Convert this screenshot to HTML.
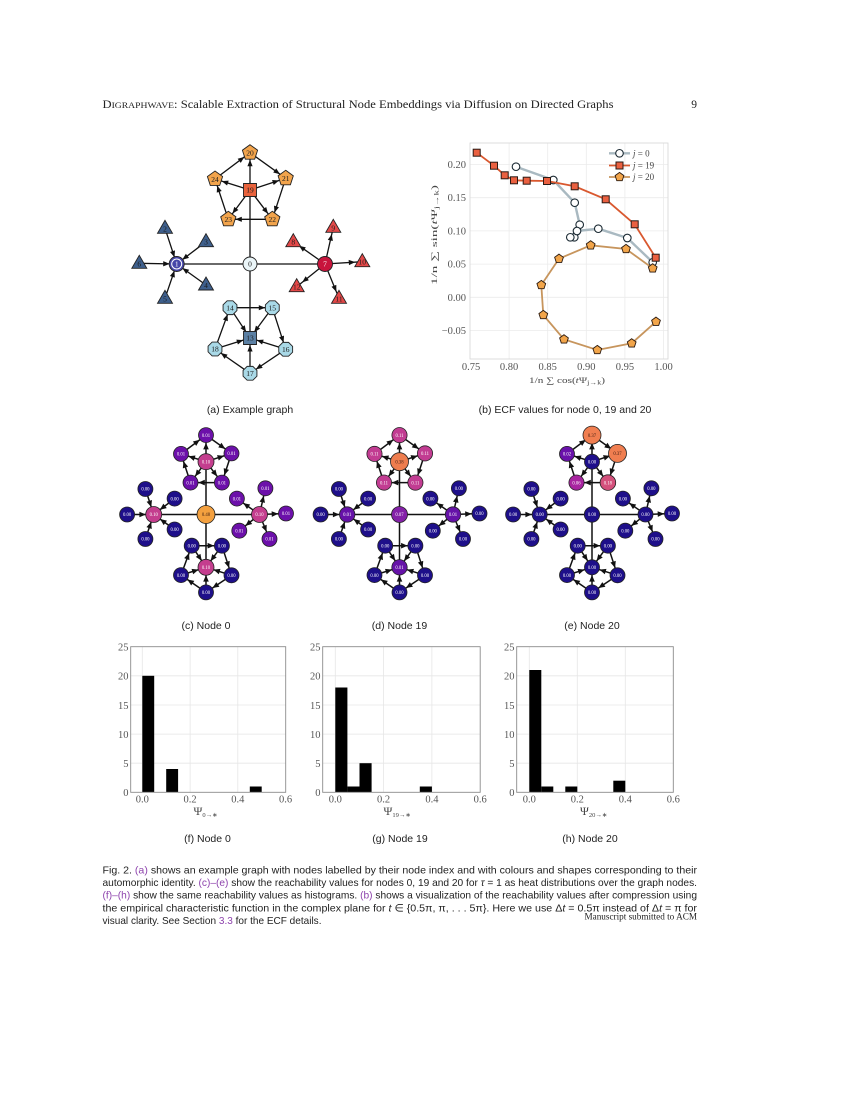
<!DOCTYPE html>
<html><head><meta charset="utf-8">
<style>
html,body{margin:0;padding:0;background:#fff}
svg{display:block}
.sf{font-family:"Liberation Serif",serif}
.ss{font-family:"Liberation Sans",sans-serif}
.tk{font-family:"Liberation Serif",serif;font-size:10.5px;fill:#555}
.nl{font-family:"Liberation Serif",serif;font-size:4.7px;fill:#fff;text-anchor:middle}
.nd{font-family:"Liberation Serif",serif;font-size:4.7px;fill:#3a1a10;text-anchor:middle}
.al{font-family:"Liberation Serif",serif;font-size:7.5px;fill:#1a1a1a;text-anchor:middle}
</style></head><body>
<svg width="850" height="1100" viewBox="0 0 850 1100" xmlns="http://www.w3.org/2000/svg">
<defs>
<marker id="m1" markerUnits="userSpaceOnUse" viewBox="-12 -6 24 12" markerWidth="24" markerHeight="12" refX="7" refY="0" orient="auto" overflow="visible"><path d="M0,0 L-6.5,-2.6 L-6.5,2.6 Z" fill="#111"/></marker>
<marker id="m2" markerUnits="userSpaceOnUse" viewBox="-12 -6 24 12" markerWidth="24" markerHeight="12" refX="7.8" refY="0" orient="auto" overflow="visible"><path d="M0,0 L-6.5,-2.8 L-6.5,2.8 Z" fill="#111"/></marker>
<path id="tri" d="M0,-8 L7.5,5 L-7.5,5 Z"/>
<path id="sq" d="M-6.5,-6.5 h13 v13 h-13 Z"/>
<path id="oct" d="M6.93,2.87 L2.87,6.93 L-2.87,6.93 L-6.93,2.87 L-6.93,-2.87 L-2.87,-6.93 L2.87,-6.93 L6.93,-2.87 Z"/>
<path id="pent" d="M0,-8 L7.61,-2.47 L4.7,6.47 L-4.7,6.47 L-7.61,-2.47 Z"/>
<path id="p5s" d="M0,-4.6 L4.37,-1.42 L2.7,3.72 L-2.7,3.72 L-4.37,-1.42 Z"/>
<g id="E" stroke="#111" stroke-width="1.5" fill="none">
<path d="M0,0H-52.3M0,0H53.5M0,0V52.8M0,0V-52.8"/>
<g marker-end="url(#m2)">
<line x1="-60.6" y1="-25.5" x2="-52.3" y2="0"/>
<line x1="-31.4" y1="-15.9" x2="-52.3" y2="0"/>
<line x1="-31.4" y1="15" x2="-52.3" y2="0"/>
<line x1="-60.6" y1="24.5" x2="-52.3" y2="0"/>
<line x1="-78.9" y1="0" x2="-52.3" y2="0"/>
<line x1="53.5" y1="0" x2="30.9" y2="-15.9"/>
<line x1="53.5" y1="0" x2="59.4" y2="-26.2"/>
<line x1="53.5" y1="0" x2="80" y2="-1"/>
<line x1="53.5" y1="0" x2="63.5" y2="24.5"/>
<line x1="53.5" y1="0" x2="33.3" y2="16.2"/>
<line x1="0" y1="-52.8" x2="0" y2="-79.4"/>
<line x1="0" y1="-52.8" x2="25.5" y2="-61.1"/>
<line x1="0" y1="-52.8" x2="15.9" y2="-31.9"/>
<line x1="0" y1="-52.8" x2="-15.5" y2="-31.9"/>
<line x1="0" y1="-52.8" x2="-25" y2="-60.6"/>
<line x1="-25" y1="-60.6" x2="0" y2="-79.4"/>
<line x1="0" y1="-79.4" x2="25.5" y2="-61.1"/>
<line x1="25.5" y1="-61.1" x2="15.9" y2="-31.9"/>
<line x1="15.9" y1="-31.9" x2="-15.5" y2="-31.9"/>
<line x1="-15.5" y1="-31.9" x2="-25" y2="-60.6"/>
<line x1="-14.3" y1="31.2" x2="0" y2="52.8"/>
<line x1="15.9" y1="31.2" x2="0" y2="52.8"/>
<line x1="25.5" y1="60.8" x2="0" y2="52.8"/>
<line x1="0" y1="77.9" x2="0" y2="52.8"/>
<line x1="-25" y1="60.6" x2="0" y2="52.8"/>
<line x1="-14.3" y1="31.2" x2="15.9" y2="31.2"/>
<line x1="15.9" y1="31.2" x2="25.5" y2="60.8"/>
<line x1="25.5" y1="60.8" x2="0" y2="77.9"/>
<line x1="0" y1="77.9" x2="-25" y2="60.6"/>
<line x1="-25" y1="60.6" x2="-14.3" y2="31.2"/>
</g></g>
</defs>

<!-- Header -->
<text class="sf" x="102.5" y="108" font-size="11.5" fill="#222" textLength="511" lengthAdjust="spacingAndGlyphs">D<tspan font-size="8.8">IGRAPHWAVE</tspan>: Scalable Extraction of Structural Node Embeddings via Diffusion on Directed Graphs</text>
<text class="sf" x="697" y="108" font-size="11.5" fill="#222" text-anchor="end">9</text>

<!-- (a) Example graph -->
<g stroke="#111" stroke-width="1.3" fill="none">
<path d="M250,264H176.7M250,264H325M250,264V338M250,264V190"/>
<g marker-end="url(#m1)">
<line x1="165" y1="228.3" x2="176.7" y2="264"/>
<line x1="206" y1="241.7" x2="176.7" y2="264"/>
<line x1="206" y1="285" x2="176.7" y2="264"/>
<line x1="165" y1="298.3" x2="176.7" y2="264"/>
<line x1="139.3" y1="263.3" x2="176.7" y2="264"/>
<line x1="325" y1="264" x2="293.3" y2="241.7"/>
<line x1="325" y1="264" x2="333.3" y2="227.3"/>
<line x1="325" y1="264" x2="362.3" y2="261.7"/>
<line x1="325" y1="264" x2="339" y2="298.3"/>
<line x1="325" y1="264" x2="296.7" y2="286.7"/>
<line x1="250" y1="190" x2="250" y2="152.7"/>
<line x1="250" y1="190" x2="285.7" y2="178.3"/>
<line x1="250" y1="190" x2="272.3" y2="219.3"/>
<line x1="250" y1="190" x2="228.3" y2="219.3"/>
<line x1="250" y1="190" x2="215" y2="179"/>
<line x1="215" y1="179" x2="250" y2="152.7"/>
<line x1="250" y1="152.7" x2="285.7" y2="178.3"/>
<line x1="285.7" y1="178.3" x2="272.3" y2="219.3"/>
<line x1="272.3" y1="219.3" x2="228.3" y2="219.3"/>
<line x1="228.3" y1="219.3" x2="215" y2="179"/>
<line x1="230" y1="307.7" x2="250" y2="338"/>
<line x1="272.3" y1="307.7" x2="250" y2="338"/>
<line x1="285.7" y1="349.3" x2="250" y2="338"/>
<line x1="250" y1="373.3" x2="250" y2="338"/>
<line x1="215" y1="349" x2="250" y2="338"/>
<line x1="230" y1="307.7" x2="272.3" y2="307.7"/>
<line x1="272.3" y1="307.7" x2="285.7" y2="349.3"/>
<line x1="285.7" y1="349.3" x2="250" y2="373.3"/>
<line x1="250" y1="373.3" x2="215" y2="349"/>
<line x1="215" y1="349" x2="230" y2="307.7"/>
</g></g>
<g stroke="#222" stroke-width="0.9">
<circle cx="250" cy="264" r="7" fill="#eaf5f8"/>
<circle cx="176.7" cy="264" r="7.5" fill="#4646a8"/>
<circle cx="176.7" cy="264" r="5" fill="none" stroke="#fff" stroke-width="1"/>
<circle cx="325" cy="264" r="7.5" fill="#c8143c"/>
<g fill="#3e5f8c">
<use href="#tri" x="165" y="228.3"/><use href="#tri" x="206" y="241.7"/><use href="#tri" x="206" y="285"/><use href="#tri" x="165" y="298.3"/><use href="#tri" x="139.3" y="263.3"/>
</g>
<g fill="#e34848">
<use href="#tri" x="293.3" y="241.7"/><use href="#tri" x="333.3" y="227.3"/><use href="#tri" x="362.3" y="261.7"/><use href="#tri" x="339" y="298.3"/><use href="#tri" x="296.7" y="286.7"/>
</g>
<use href="#sq" x="250" y="338" fill="#5b80a4"/>
<use href="#sq" x="250" y="190" fill="#e8623c"/>
<g fill="#a9d9e7">
<use href="#oct" x="230" y="307.7"/><use href="#oct" x="272.3" y="307.7"/><use href="#oct" x="285.7" y="349.3"/><use href="#oct" x="250" y="373.3"/><use href="#oct" x="215" y="349"/>
</g>
<g fill="#f2a44c">
<use href="#pent" x="250" y="152.7"/><use href="#pent" x="285.7" y="178.3"/><use href="#pent" x="272.3" y="219.3"/><use href="#pent" x="228.3" y="219.3"/><use href="#pent" x="215" y="179"/>
</g>
</g>
<g class="al">
<text x="250" y="266.6">0</text>
<text x="176.7" y="266.6" fill="#fff">1</text>
<text x="165" y="231.3">2</text><text x="206" y="244.7">3</text><text x="206" y="288">4</text><text x="165" y="301.3">5</text><text x="139.3" y="266.3">6</text>
<text x="325" y="266.6" fill="#fff">7</text>
<text x="293.3" y="244.7">8</text><text x="333.3" y="230.3">9</text><text x="362.3" y="264.7">10</text><text x="339" y="301.3">11</text><text x="296.7" y="289.7">12</text>
<text x="250" y="340.6">13</text>
<text x="230" y="310.3">14</text><text x="272.3" y="310.3">15</text><text x="285.7" y="351.9">16</text><text x="250" y="375.9">17</text><text x="215" y="351.6">18</text>
<text x="250" y="192.6">19</text>
<text x="250" y="155.6">20</text><text x="285.7" y="181.2">21</text><text x="272.3" y="222.2">22</text><text x="228.3" y="222.2">23</text><text x="215" y="181.9">24</text>
</g>
<text class="ss" x="250" y="413" font-size="10.5" fill="#222" text-anchor="middle">(a) Example graph</text>

<!-- (b) ECF -->
<g stroke="#ebebeb" stroke-width="0.8">
<line x1="509.1" y1="143" x2="509.1" y2="359"/><line x1="547.7" y1="143" x2="547.7" y2="359"/><line x1="586.3" y1="143" x2="586.3" y2="359"/><line x1="624.9" y1="143" x2="624.9" y2="359"/><line x1="663.5" y1="143" x2="663.5" y2="359"/>
<line x1="470" y1="164.5" x2="668" y2="164.5"/><line x1="470" y1="197.7" x2="668" y2="197.7"/><line x1="470" y1="230.9" x2="668" y2="230.9"/><line x1="470" y1="264.1" x2="668" y2="264.1"/><line x1="470" y1="297.3" x2="668" y2="297.3"/><line x1="470" y1="330.5" x2="668" y2="330.5"/>
</g>
<rect x="470" y="143" width="198" height="216" fill="none" stroke="#d6d6d6" stroke-width="0.8"/>
<g class="tk" text-anchor="end" font-size="10">
<text x="466" y="168">0.20</text><text x="466" y="201.2">0.15</text><text x="466" y="234.4">0.10</text><text x="466" y="267.6">0.05</text><text x="466" y="300.8">0.00</text><text x="466" y="334">−0.05</text>
</g>
<g class="tk" text-anchor="middle" font-size="10">
<text x="471" y="370">0.75</text><text x="509.1" y="370">0.80</text><text x="547.7" y="370">0.85</text><text x="586.3" y="370">0.90</text><text x="624.9" y="370">0.95</text><text x="663.5" y="370">1.00</text>
</g>
<text class="sf" x="567" y="383" font-size="8.5" fill="#444" text-anchor="middle" textLength="76" lengthAdjust="spacingAndGlyphs">1/n ∑ cos(<tspan font-style="italic">t</tspan>Ψ<tspan font-size="6" dy="1.5">j→k</tspan><tspan dy="-1.5">)</tspan></text>
<text class="sf" transform="translate(437,235) rotate(-90)" font-size="8.5" fill="#444" text-anchor="middle" textLength="100" lengthAdjust="spacingAndGlyphs">1/n ∑ sin(<tspan font-style="italic">t</tspan>Ψ<tspan font-size="6" dy="1.5">j→k</tspan><tspan dy="-1.5">)</tspan></text>
<!-- series j=0 -->
<polyline fill="none" stroke="#a9b9c1" stroke-width="2.4" stroke-linejoin="round" points="516,166.7 553.3,180 574.7,202.7 579.7,224.7 574.3,237.3 570.3,237.3 577,231 598.3,228.7 627.3,238 652.7,262.3"/>
<g fill="#fff" stroke="#1b2a33" stroke-width="1.1">
<circle cx="516" cy="166.7" r="3.8"/><circle cx="553.3" cy="180" r="3.8"/><circle cx="574.7" cy="202.7" r="3.8"/><circle cx="579.7" cy="224.7" r="3.8"/><circle cx="574.3" cy="237.3" r="3.8"/><circle cx="570.3" cy="237.3" r="3.8"/><circle cx="577" cy="231" r="3.8"/><circle cx="598.3" cy="228.7" r="3.8"/><circle cx="627.3" cy="238" r="3.8"/><circle cx="652.7" cy="262.3" r="3.8"/>
</g>
<!-- series j=19 -->
<polyline fill="none" stroke="#d9582f" stroke-width="1.8" points="476.7,152.7 494,165.7 504.7,175.3 514,180.3 526.7,180.7 547,181 574.7,186.3 605.7,199.3 634.7,224.3 655.7,257.7"/>
<g fill="#ea6040" stroke="#2a1a14" stroke-width="1">
<rect x="473.2" y="149.2" width="7" height="7"/><rect x="490.5" y="162.2" width="7" height="7"/><rect x="501.2" y="171.8" width="7" height="7"/><rect x="510.5" y="176.8" width="7" height="7"/><rect x="523.2" y="177.2" width="7" height="7"/><rect x="543.5" y="177.5" width="7" height="7"/><rect x="571.2" y="182.8" width="7" height="7"/><rect x="602.2" y="195.8" width="7" height="7"/><rect x="631.2" y="220.8" width="7" height="7"/><rect x="652.2" y="254.2" width="7" height="7"/>
</g>
<!-- series j=20 -->
<polyline fill="none" stroke="#c7955d" stroke-width="1.8" points="656,321.7 631.7,343.3 597.3,350 564,339.3 543.3,315 541.3,285 559,258.7 590.7,245.3 626,249 652.7,268.3"/>
<g fill="#f2a54a" stroke="#2a1a10" stroke-width="0.9">
<use href="#p5s" x="656" y="321.7"/><use href="#p5s" x="631.7" y="343.3"/><use href="#p5s" x="597.3" y="350"/><use href="#p5s" x="564" y="339.3"/><use href="#p5s" x="543.3" y="315"/><use href="#p5s" x="541.3" y="285"/><use href="#p5s" x="559" y="258.7"/><use href="#p5s" x="590.7" y="245.3"/><use href="#p5s" x="626" y="249"/><use href="#p5s" x="652.7" y="268.3"/>
</g>
<!-- legend -->
<line x1="609" y1="153.3" x2="630" y2="153.3" stroke="#a9b9c1" stroke-width="2.4"/>
<circle cx="619.5" cy="153.3" r="3.8" fill="#fff" stroke="#1b2a33" stroke-width="1.1"/>
<line x1="609" y1="165.5" x2="630" y2="165.5" stroke="#d9582f" stroke-width="1.8"/>
<rect x="616" y="162" width="7" height="7" fill="#ea6040" stroke="#2a1a14" stroke-width="1"/>
<line x1="609" y1="177" x2="630" y2="177" stroke="#c7955d" stroke-width="1.8"/>
<use href="#p5s" x="619.5" y="177" fill="#f2a54a" stroke="#2a1a10" stroke-width="0.9"/>
<g class="sf" font-size="9" fill="#444">
<text x="633" y="156.3"><tspan font-style="italic">j</tspan> = 0</text>
<text x="633" y="168.5"><tspan font-style="italic">j</tspan> = 19</text>
<text x="633" y="180"><tspan font-style="italic">j</tspan> = 20</text>
</g>
<text class="ss" x="565" y="413" font-size="10.5" fill="#222" text-anchor="middle">(b) ECF values for node 0, 19 and 20</text>

<!-- (c) Node 0 -->
<g transform="translate(206,514.5)">
<use href="#E"/>
<g stroke="#222" stroke-width="0.8">
<circle cx="0" cy="0" r="9" fill="#f3a03f"/>
<circle cx="-52.3" cy="0" r="8" fill="#c43e8e"/>
<circle cx="53.5" cy="0" r="8" fill="#c43e8e"/>
<circle cx="0" cy="52.8" r="8" fill="#c43e8e"/>
<circle cx="0" cy="-52.8" r="8" fill="#c43e8e"/>
<g fill="#1e0f8a">
<circle cx="-60.6" cy="-25.5" r="7.5"/><circle cx="-31.4" cy="-15.9" r="7.5"/><circle cx="-31.4" cy="15" r="7.5"/><circle cx="-60.6" cy="24.5" r="7.5"/><circle cx="-78.9" cy="0" r="7.5"/>
<circle cx="-14.3" cy="31.2" r="7.5"/><circle cx="15.9" cy="31.2" r="7.5"/><circle cx="25.5" cy="60.8" r="7.5"/><circle cx="0" cy="77.9" r="7.5"/><circle cx="-25" cy="60.6" r="7.5"/>
</g>
<g fill="#6c10aa">
<circle cx="30.9" cy="-15.9" r="7.5"/><circle cx="59.4" cy="-26.2" r="7.5"/><circle cx="80" cy="-1" r="7.5"/><circle cx="63.5" cy="24.5" r="7.5"/><circle cx="33.3" cy="16.2" r="7.5"/>
<circle cx="0" cy="-79.4" r="7.5"/><circle cx="25.5" cy="-61.1" r="7.5"/><circle cx="15.9" cy="-31.9" r="7.5"/><circle cx="-15.5" cy="-31.9" r="7.5"/><circle cx="-25" cy="-60.6" r="7.5"/>
</g></g>
<text class="nd" x="0" y="1.7">0.48</text>
<g class="nl">
<text x="-52.3" y="1.7">0.10</text><text x="53.5" y="1.7">0.10</text><text x="0" y="54.5">0.10</text><text x="0" y="-51.1">0.10</text>
<text x="-60.6" y="-23.8">0.00</text><text x="-31.4" y="-14.2">0.00</text><text x="-31.4" y="16.7">0.00</text><text x="-60.6" y="26.2">0.00</text><text x="-78.9" y="1.7">0.00</text>
<text x="-14.3" y="32.9">0.00</text><text x="15.9" y="32.9">0.00</text><text x="25.5" y="62.5">0.00</text><text x="0" y="79.6">0.00</text><text x="-25" y="62.3">0.00</text>
<text x="30.9" y="-14.2">0.01</text><text x="59.4" y="-24.5">0.01</text><text x="80" y="0.7">0.01</text><text x="63.5" y="26.2">0.01</text><text x="33.3" y="17.9">0.01</text>
<text x="0" y="-77.7">0.01</text><text x="25.5" y="-59.4">0.01</text><text x="15.9" y="-30.2">0.01</text><text x="-15.5" y="-30.2">0.01</text><text x="-25" y="-58.9">0.01</text>
</g></g>
<text class="ss" x="206" y="629" font-size="10.5" fill="#222" text-anchor="middle">(c) Node 0</text>

<!-- (d) Node 19 -->
<g transform="translate(399.5,514.5)">
<use href="#E"/>
<g stroke="#222" stroke-width="0.8">
<circle cx="0" cy="0" r="8" fill="#8420a8"/>
<circle cx="-52.3" cy="0" r="7.7" fill="#6612a8"/>
<circle cx="53.5" cy="0" r="7.7" fill="#6612a8"/>
<circle cx="0" cy="52.8" r="7.7" fill="#6612a8"/>
<circle cx="0" cy="-52.8" r="9" fill="#ee7d4e"/>
<g fill="#1e0f8a">
<circle cx="-60.6" cy="-25.5" r="7.5"/><circle cx="-31.4" cy="-15.9" r="7.5"/><circle cx="-31.4" cy="15" r="7.5"/><circle cx="-60.6" cy="24.5" r="7.5"/><circle cx="-78.9" cy="0" r="7.5"/>
<circle cx="-14.3" cy="31.2" r="7.5"/><circle cx="15.9" cy="31.2" r="7.5"/><circle cx="25.5" cy="60.8" r="7.5"/><circle cx="0" cy="77.9" r="7.5"/><circle cx="-25" cy="60.6" r="7.5"/>
<circle cx="30.9" cy="-15.9" r="7.5"/><circle cx="59.4" cy="-26.2" r="7.5"/><circle cx="80" cy="-1" r="7.5"/><circle cx="63.5" cy="24.5" r="7.5"/><circle cx="33.3" cy="16.2" r="7.5"/>
</g>
<g fill="#c23c92">
<circle cx="0" cy="-79.4" r="7.6"/><circle cx="25.5" cy="-61.1" r="7.6"/><circle cx="15.9" cy="-31.9" r="7.6"/><circle cx="-15.5" cy="-31.9" r="7.6"/><circle cx="-25" cy="-60.6" r="7.6"/>
</g></g>
<text class="nd" x="0" y="-51.1">0.38</text>
<g class="nl">
<text x="0" y="1.7">0.07</text>
<text x="-52.3" y="1.7">0.01</text><text x="53.5" y="1.7">0.01</text><text x="0" y="54.5">0.01</text>
<text x="-60.6" y="-23.8">0.00</text><text x="-31.4" y="-14.2">0.00</text><text x="-31.4" y="16.7">0.00</text><text x="-60.6" y="26.2">0.00</text><text x="-78.9" y="1.7">0.00</text>
<text x="-14.3" y="32.9">0.00</text><text x="15.9" y="32.9">0.00</text><text x="25.5" y="62.5">0.00</text><text x="0" y="79.6">0.00</text><text x="-25" y="62.3">0.00</text>
<text x="30.9" y="-14.2">0.00</text><text x="59.4" y="-24.5">0.00</text><text x="80" y="0.7">0.00</text><text x="63.5" y="26.2">0.00</text><text x="33.3" y="17.9">0.00</text>
<text x="0" y="-77.7">0.11</text><text x="25.5" y="-59.4">0.11</text><text x="15.9" y="-30.2">0.11</text><text x="-15.5" y="-30.2">0.11</text><text x="-25" y="-58.9">0.11</text>
</g></g>
<text class="ss" x="399.5" y="629" font-size="10.5" fill="#222" text-anchor="middle">(d) Node 19</text>

<!-- (e) Node 20 -->
<g transform="translate(592,514.5)">
<use href="#E"/>
<g stroke="#222" stroke-width="0.8">
<g fill="#1e0f8a">
<circle cx="0" cy="0" r="7.7"/>
<circle cx="-52.3" cy="0" r="7.5"/><circle cx="53.5" cy="0" r="7.5"/><circle cx="0" cy="52.8" r="7.5"/><circle cx="0" cy="-52.8" r="7.5"/>
<circle cx="-60.6" cy="-25.5" r="7.5"/><circle cx="-31.4" cy="-15.9" r="7.5"/><circle cx="-31.4" cy="15" r="7.5"/><circle cx="-60.6" cy="24.5" r="7.5"/><circle cx="-78.9" cy="0" r="7.5"/>
<circle cx="-14.3" cy="31.2" r="7.5"/><circle cx="15.9" cy="31.2" r="7.5"/><circle cx="25.5" cy="60.8" r="7.5"/><circle cx="0" cy="77.9" r="7.5"/><circle cx="-25" cy="60.6" r="7.5"/>
<circle cx="30.9" cy="-15.9" r="7.5"/><circle cx="59.4" cy="-26.2" r="7.5"/><circle cx="80" cy="-1" r="7.5"/><circle cx="63.5" cy="24.5" r="7.5"/><circle cx="33.3" cy="16.2" r="7.5"/>
</g>
<circle cx="0" cy="-79.4" r="9" fill="#f07e50"/>
<circle cx="25.5" cy="-61.1" r="9" fill="#f07e50"/>
<circle cx="15.9" cy="-31.9" r="7.8" fill="#d4507c"/>
<circle cx="-15.5" cy="-31.9" r="7.6" fill="#a824a0"/>
<circle cx="-25" cy="-60.6" r="7.5" fill="#6a12aa"/>
</g>
<text class="nd" x="0" y="-77.7">0.37</text><text class="nd" x="25.5" y="-59.4">0.37</text>
<g class="nl">
<text x="15.9" y="-30.2">0.18</text><text x="-15.5" y="-30.2">0.06</text><text x="-25" y="-58.9">0.02</text>
<text x="0" y="1.7">0.00</text>
<text x="-52.3" y="1.7">0.00</text><text x="53.5" y="1.7">0.00</text><text x="0" y="54.5">0.00</text><text x="0" y="-51.1">0.00</text>
<text x="-60.6" y="-23.8">0.00</text><text x="-31.4" y="-14.2">0.00</text><text x="-31.4" y="16.7">0.00</text><text x="-60.6" y="26.2">0.00</text><text x="-78.9" y="1.7">0.00</text>
<text x="-14.3" y="32.9">0.00</text><text x="15.9" y="32.9">0.00</text><text x="25.5" y="62.5">0.00</text><text x="0" y="79.6">0.00</text><text x="-25" y="62.3">0.00</text>
<text x="30.9" y="-14.2">0.00</text><text x="59.4" y="-24.5">0.00</text><text x="80" y="0.7">0.00</text><text x="63.5" y="26.2">0.00</text><text x="33.3" y="17.9">0.00</text>
</g></g>
<text class="ss" x="592" y="629" font-size="10.5" fill="#222" text-anchor="middle">(e) Node 20</text>

<!-- (f) histogram -->
<g stroke="#e6e6e6" stroke-width="0.8">
<line x1="142.3" y1="646.7" x2="142.3" y2="792.3"/><line x1="190.1" y1="646.7" x2="190.1" y2="792.3"/><line x1="237.8" y1="646.7" x2="237.8" y2="792.3"/>
<line x1="130.7" y1="763.2" x2="285.7" y2="763.2"/><line x1="130.7" y1="734.1" x2="285.7" y2="734.1"/><line x1="130.7" y1="705" x2="285.7" y2="705"/><line x1="130.7" y1="675.8" x2="285.7" y2="675.8"/>
</g>
<g fill="#000">
<rect x="142.3" y="675.8" width="11.9" height="116.5"/><rect x="166.2" y="769" width="11.9" height="23.3"/><rect x="249.8" y="786.5" width="11.9" height="5.8"/>
</g>
<rect x="130.7" y="646.7" width="155" height="145.6" fill="none" stroke="#8c8c8c" stroke-width="0.9"/>
<g class="tk" text-anchor="end">
<text x="128.5" y="650.5">25</text><text x="128.5" y="679.6">20</text><text x="128.5" y="708.8">15</text><text x="128.5" y="737.9">10</text><text x="128.5" y="767">5</text><text x="128.5" y="796.1">0</text>
</g>
<g class="tk" text-anchor="middle">
<text x="142.3" y="802.5">0.0</text><text x="190.1" y="802.5">0.2</text><text x="237.8" y="802.5">0.4</text><text x="285.6" y="802.5">0.6</text>
</g>
<text class="sf" x="193.5" y="815" font-size="12" fill="#444">Ψ<tspan font-size="6.5" dy="2">0→∗</tspan></text>
<text class="ss" x="207.5" y="842" font-size="10.5" fill="#222" text-anchor="middle">(f) Node 0</text>

<!-- (g) histogram -->
<g stroke="#e6e6e6" stroke-width="0.8">
<line x1="335.3" y1="646.7" x2="335.3" y2="792.3"/><line x1="383.6" y1="646.7" x2="383.6" y2="792.3"/><line x1="431.9" y1="646.7" x2="431.9" y2="792.3"/>
<line x1="322.7" y1="763.2" x2="480.2" y2="763.2"/><line x1="322.7" y1="734.1" x2="480.2" y2="734.1"/><line x1="322.7" y1="705" x2="480.2" y2="705"/><line x1="322.7" y1="675.8" x2="480.2" y2="675.8"/>
</g>
<g fill="#000">
<rect x="335.3" y="687.5" width="12.1" height="104.8"/><rect x="347.4" y="786.5" width="12.1" height="5.8"/><rect x="359.5" y="763.2" width="12.1" height="29.1"/><rect x="419.8" y="786.5" width="12.1" height="5.8"/>
</g>
<rect x="322.7" y="646.7" width="157.5" height="145.6" fill="none" stroke="#8c8c8c" stroke-width="0.9"/>
<g class="tk" text-anchor="end">
<text x="320.5" y="650.5">25</text><text x="320.5" y="679.6">20</text><text x="320.5" y="708.8">15</text><text x="320.5" y="737.9">10</text><text x="320.5" y="767">5</text><text x="320.5" y="796.1">0</text>
</g>
<g class="tk" text-anchor="middle">
<text x="335.3" y="802.5">0.0</text><text x="383.6" y="802.5">0.2</text><text x="431.9" y="802.5">0.4</text><text x="480.2" y="802.5">0.6</text>
</g>
<text class="sf" x="383.5" y="815" font-size="12" fill="#444">Ψ<tspan font-size="6.5" dy="2">19→∗</tspan></text>
<text class="ss" x="400" y="842" font-size="10.5" fill="#222" text-anchor="middle">(g) Node 19</text>

<!-- (h) histogram -->
<g stroke="#e6e6e6" stroke-width="0.8">
<line x1="529.3" y1="646.7" x2="529.3" y2="792.3"/><line x1="577.3" y1="646.7" x2="577.3" y2="792.3"/><line x1="625.3" y1="646.7" x2="625.3" y2="792.3"/>
<line x1="516.7" y1="763.2" x2="673.3" y2="763.2"/><line x1="516.7" y1="734.1" x2="673.3" y2="734.1"/><line x1="516.7" y1="705" x2="673.3" y2="705"/><line x1="516.7" y1="675.8" x2="673.3" y2="675.8"/>
</g>
<g fill="#000">
<rect x="529.3" y="670" width="12" height="122.3"/><rect x="541.3" y="786.5" width="12" height="5.8"/><rect x="565.3" y="786.5" width="12" height="5.8"/><rect x="613.3" y="780.7" width="12" height="11.6"/>
</g>
<rect x="516.7" y="646.7" width="156.6" height="145.6" fill="none" stroke="#8c8c8c" stroke-width="0.9"/>
<g class="tk" text-anchor="end">
<text x="514.5" y="650.5">25</text><text x="514.5" y="679.6">20</text><text x="514.5" y="708.8">15</text><text x="514.5" y="737.9">10</text><text x="514.5" y="767">5</text><text x="514.5" y="796.1">0</text>
</g>
<g class="tk" text-anchor="middle">
<text x="529.3" y="802.5">0.0</text><text x="577.3" y="802.5">0.2</text><text x="625.3" y="802.5">0.4</text><text x="673.3" y="802.5">0.6</text>
</g>
<text class="sf" x="580" y="815" font-size="12" fill="#444">Ψ<tspan font-size="6.5" dy="2">20→∗</tspan></text>
<text class="ss" x="590" y="842" font-size="10.5" fill="#222" text-anchor="middle">(h) Node 20</text>

<!-- Caption -->
<g class="ss" font-size="10.5" fill="#222">
<text x="102.5" y="873.3" textLength="594.5" lengthAdjust="spacingAndGlyphs">Fig. 2.  <tspan fill="#8e44ad">(a)</tspan> shows an example graph with nodes labelled by their node index and with colours and shapes corresponding to their</text>
<text x="102.5" y="886" textLength="594.5" lengthAdjust="spacingAndGlyphs">automorphic identity. <tspan fill="#8e44ad">(c)–(e)</tspan> show the reachability values for nodes 0, 19 and 20 for <tspan font-style="italic">τ</tspan> = 1 as heat distributions over the graph nodes.</text>
<text x="102.5" y="898.7" textLength="594.5" lengthAdjust="spacingAndGlyphs"><tspan fill="#8e44ad">(f)–(h)</tspan> show the same reachability values as histograms. <tspan fill="#8e44ad">(b)</tspan> shows a visualization of the reachability values after compression using</text>
<text x="102.5" y="911.3" textLength="594.5" lengthAdjust="spacingAndGlyphs">the empirical characteristic function in the complex plane for <tspan font-style="italic">t</tspan> ∈ {0.5π, π, . . . 5π}. Here we use Δ<tspan font-style="italic">t</tspan> = 0.5π instead of Δ<tspan font-style="italic">t</tspan> = π for</text>
<text x="102.5" y="924" textLength="219" lengthAdjust="spacingAndGlyphs">visual clarity. See Section <tspan fill="#8e44ad">3.3</tspan> for the ECF details.</text>
</g>
<text class="sf" x="697" y="919.5" font-size="9.2" fill="#222" text-anchor="end">Manuscript submitted to ACM</text>
</svg>
</body></html>
